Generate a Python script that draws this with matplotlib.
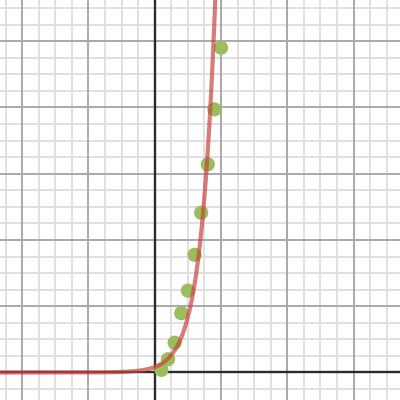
import numpy as np
import matplotlib
matplotlib.use("Agg")
import matplotlib.pyplot as plt

# data points
x_data = [0.2, 0.4, 0.6, 0.8, 1.0, 1.2, 1.4, 1.6, 1.8, 2.0]
y_data = [0.08, 0.40, 0.90, 1.79, 2.47, 3.55, 4.82, 6.28, 7.94, 9.80]

# fitted exponential y = a * exp(b * x)
fit_a = 0.166
fit_b = 2.31

x_min, x_max = -4.67, 7.40
y_min, y_max = -0.83, 11.24

minor_ticks_x = np.arange(-4.5, x_max, 0.5)
minor_ticks_y = np.arange(-0.5, y_max, 0.5)
major_ticks_x = np.arange(-4, x_max, 2)
major_ticks_y = np.arange(2, y_max, 2)

fig = plt.figure(figsize=(4, 4), dpi=100)
ax = fig.add_axes([0, 0, 1, 1])
ax.set_xlim(x_min, x_max)
ax.set_ylim(y_min, y_max)

# minor grid
ax.vlines(minor_ticks_x, y_min, y_max, color="#e0e0e0", lw=1.4, zorder=0)
ax.hlines(minor_ticks_y, x_min, x_max, color="#e0e0e0", lw=1.4, zorder=0)
# major grid
ax.vlines(major_ticks_x, y_min, y_max, color="#a9a9a9", lw=1.4, zorder=1)
ax.hlines(major_ticks_y, x_min, x_max, color="#a9a9a9", lw=1.4, zorder=1)
# axes
ax.axvline(0, color="#2b2b2b", lw=1.7, zorder=2)
ax.axhline(0, color="#2b2b2b", lw=1.7, zorder=2)

ax.scatter(x_data, y_data, s=105, color="#9cbd5e", edgecolors="none", zorder=3)

xs = np.linspace(x_min, x_max, 2000)
ax.plot(xs, fit_a * np.exp(fit_b * xs), color="#c74440", alpha=0.7, lw=3, zorder=4)

ax.set_xticks([])
ax.set_yticks([])
for s in ax.spines.values():
    s.set_visible(False)

fig.savefig("out.png", dpi=100)
